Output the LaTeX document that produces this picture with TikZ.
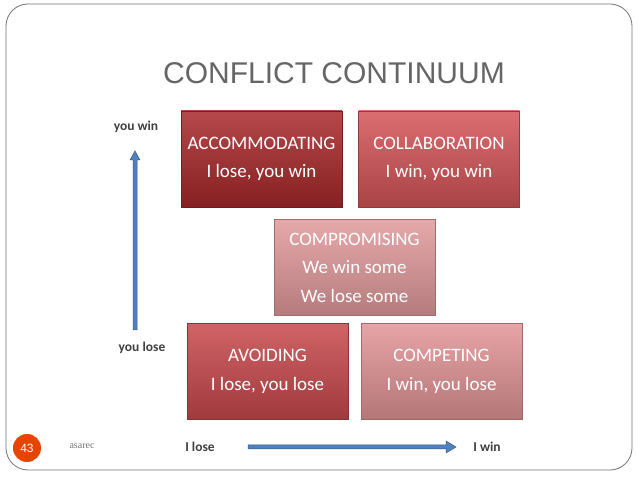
\documentclass[tikz,border=0pt]{standalone}
\usepackage{fontspec}
\setmainfont{Carlito}
\newfontfamily\arialf{Liberation Sans}
\newfontfamily\timesf{Liberation Serif}
\usetikzlibrary{arrows.meta}
\definecolor{barrow}{HTML}{4F81BD}
\tikzset{
  box/.style={draw=#1!70!black, line width=0.4pt, minimum width=161pt, minimum height=96pt, align=center, text=white, font=\fontsize{19}{28.5}\selectfont, top color=#1!85!white, bottom color=#1!80!black},
  lbl/.style={font=\bfseries\fontsize{13.5}{15}\selectfont, text=black!75},
  barr/.style={draw=barrow!70!black, fill=barrow, line width=0.5pt}
}
\begin{document}
\begin{tikzpicture}[x=1pt,y=-1pt]
\useasboundingbox (0,0) rectangle (638,478);
\fill[white] (0,0) rectangle (638,478);
\draw[black!55, line width=0.8pt, rounded corners=22pt] (6,4) rectangle (632,470);
\node (title) at (334,73) {\arialf\fontsize{30}{33}\selectfont\color{black!60}CONFLICT CONTINUUM};
\definecolor{c1}{HTML}{A8282A}
\definecolor{c2}{HTML}{D45458}
\definecolor{c3}{HTML}{E29A9C}
\definecolor{c4}{HTML}{C8484C}
\definecolor{c5}{HTML}{E29496}
\node[box=c1] (acc) at (261.5,159) {ACCOMMODATING\\I lose, you win};
\node[box=c2] (col) at (439,159) {COLLABORATION\\I win, you win};
\node[box=c3] (com) at (354.5,267.5) {COMPROMISING\\We win some\\We lose some};
\node[box=c4] (avo) at (267.5,371.5) {AVOIDING\\I lose, you lose};
\node[box=c5] (cmp) at (441.5,371.5) {COMPETING\\I win, you lose};
\node[lbl] (yw) at (136,127) {you win};
\node[lbl] (yl) at (142,348) {you lose};
\node[lbl] (il) at (200,447) {I lose};
\node[lbl] (iw) at (487,447) {I win};
\coordinate (vb) at (135,330);
\coordinate (vt) at (135,151);
\coordinate (hl) at (248,447);
\coordinate (hr) at (456,447);
\draw[barr] (133,330) -- (133,160) -- (130,160) -- (135,151) -- (140,160) -- (137,160) -- (137,330) -- cycle;
\draw[barr] (248,445) -- (446,445) -- (446,441) -- (456,447) -- (446,453) -- (446,449) -- (248,449) -- cycle;
\node[circle, fill=orange!60!red!90!black, minimum size=28pt, inner sep=0pt, text=white, font=\arialf\fontsize{12}{14}\selectfont] (pg) at (27,448) {43};
\node[font=\timesf\fontsize{10}{12}\selectfont, text=black!55] (au) at (82,446) {asarec};
\end{tikzpicture}
\end{document}
